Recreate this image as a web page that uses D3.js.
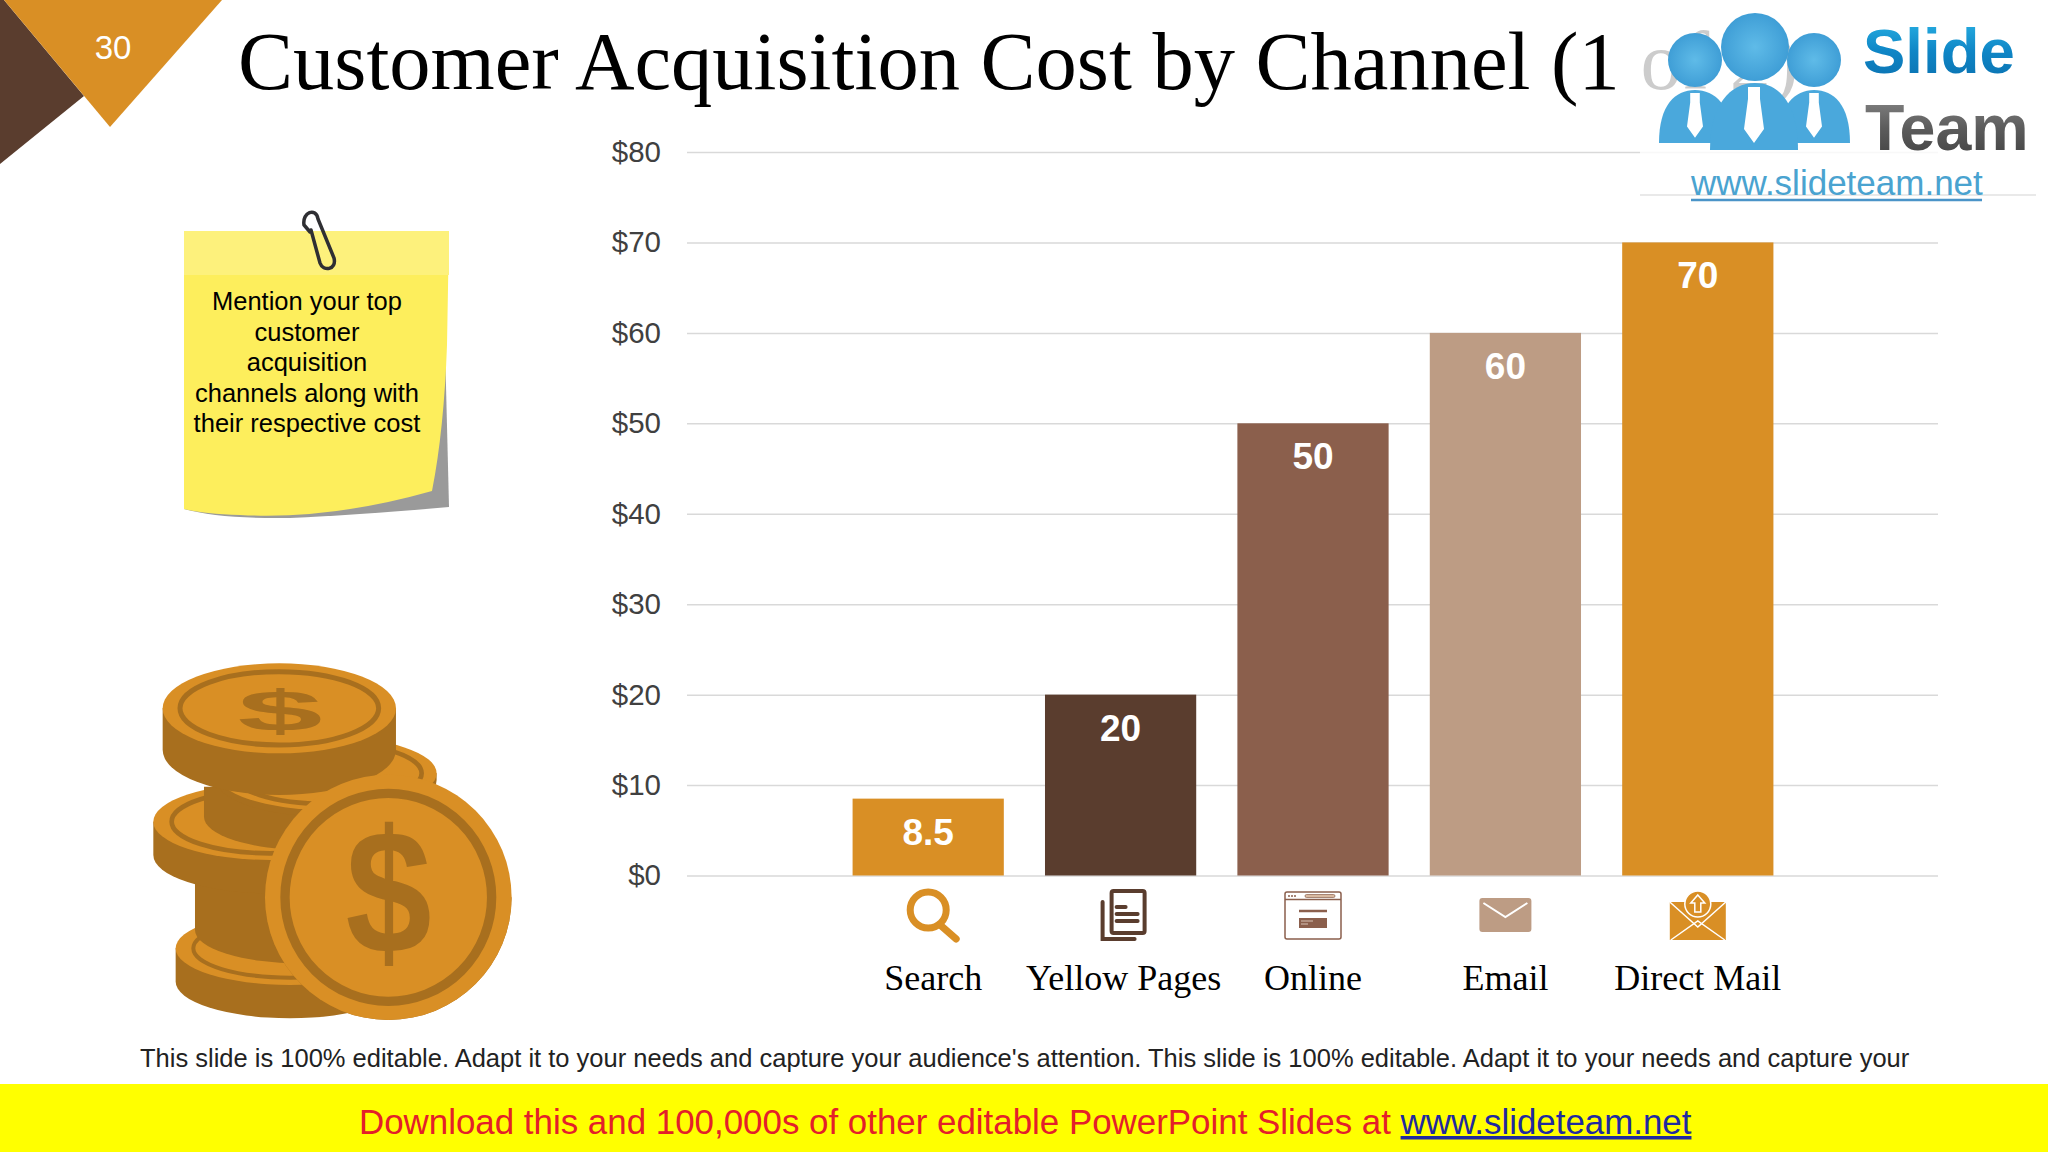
<!DOCTYPE html>
<html>
<head>
<meta charset="utf-8">
<script src="https://cdn.jsdelivr.net/npm/d3@7"></script>
<style>
  html, body { margin: 0; padding: 0; background: #fff; }
  svg { display: block; }
  .sans { font-family: "Liberation Sans", Arial, sans-serif; }
  .serif { font-family: "Liberation Serif", "Times New Roman", serif; }
</style>
</head>
<body>
<script>
// chart values
const channels = ["Search", "Yellow Pages", "Online", "Email", "Direct Mail"];
const costs = [8.5, 20, 50, 60, 70];
const barColors = ["#d98f25", "#5a3d2e", "#8b5f4c", "#bd9c84", "#d98f25"];
const costTicks = [0, 10, 20, 30, 40, 50, 60, 70, 80];
const noteLines = ["Mention your top", "customer", "acquisition", "channels along with", "their respective cost"];

const gold = "#d98f25", goldDark = "#a86f1e", brown = "#5a3d2e";

const svg = d3.select("body").append("svg")
  .attr("width", 2048)
  .attr("height", 1152)
  .attr("viewBox", "0 0 2048 1152");

const defs = svg.append("defs");

function linearGrad(id, stops) {
  const g = defs.append("linearGradient").attr("id", id)
    .attr("x1", 0).attr("y1", 0).attr("x2", 0).attr("y2", 1);
  stops.forEach((c, i) => g.append("stop")
    .attr("offset", i / (stops.length - 1)).attr("stop-color", c));
}
linearGrad("slideGrad", ["#2bb4e6", "#0f86c6", "#0a6fae"]);
linearGrad("teamGrad", ["#8a8a8a", "#5c5c5c", "#3f3f3f"]);

const headGrad = defs.append("radialGradient").attr("id", "headGrad");
headGrad.append("stop").attr("offset", 0).attr("stop-color", "#5fbbe8");
headGrad.append("stop").attr("offset", 1).attr("stop-color", "#3f9ed6");

// corner ribbon
svg.append("polygon").attr("points", "0,0 4,0 84,96 0,164").attr("fill", brown);
svg.append("polygon").attr("points", "4,0 222,0 110,127").attr("fill", gold);
svg.append("text").attr("class", "sans")
  .attr("x", 113).attr("y", 59)
  .attr("text-anchor", "middle")
  .attr("font-size", 33)
  .attr("fill", "#fff")
  .text("30");

// title
svg.append("text").attr("class", "serif")
  .attr("x", 238).attr("y", 89)
  .attr("font-size", 82.5)
  .attr("fill", "#000")
  .text("Customer Acquisition Cost by Channel (1 of 2)");

// scales
const x = d3.scaleBand()
  .domain(channels)
  .range([832, 1794])
  .paddingInner(0.214)
  .paddingOuter(0.107);

const y = d3.scaleLinear()
  .domain([0, 80])
  .range([875.5, 152]);

const color = d3.scaleOrdinal().domain(channels).range(barColors);

const plotLeft = 687, plotRight = 1938;

// y axis with gridlines
const yAxis = svg.append("g")
  .attr("transform", "translate(" + plotLeft + ",0)")
  .call(d3.axisLeft(y)
    .tickValues(costTicks)
    .tickFormat(d => "$" + d)
    .tickSize(-(plotRight - plotLeft))
    .tickPadding(26));
yAxis.select(".domain").remove();
yAxis.selectAll(".tick line").attr("stroke", "#d9d9d9").attr("stroke-width", 1.5);
yAxis.selectAll(".tick text")
  .attr("class", "sans")
  .attr("font-size", 29.5)
  .attr("fill", "#404040");

// bars
svg.append("g").selectAll("rect")
  .data(costs)
  .join("rect")
  .attr("x", (d, i) => x(channels[i]))
  .attr("y", d => y(d))
  .attr("width", x.bandwidth())
  .attr("height", d => y(0) - y(d))
  .attr("fill", (d, i) => color(channels[i]));

// value labels
svg.append("g").selectAll("text")
  .data(costs)
  .join("text")
  .attr("class", "sans")
  .attr("x", (d, i) => x(channels[i]) + x.bandwidth() / 2)
  .attr("y", d => y(d) + 46)
  .attr("text-anchor", "middle")
  .attr("font-size", 37)
  .attr("font-weight", "bold")
  .attr("fill", "#fff")
  .text(d => d);

// category labels, the first two sit a little right of their bars
const labelNudge = {"Search": 5, "Yellow Pages": 3};
const xAxis = svg.append("g")
  .attr("transform", "translate(0," + y(0) + ")")
  .call(d3.axisBottom(x).tickSize(0));
xAxis.select(".domain").remove();
xAxis.selectAll(".tick text")
  .attr("class", "serif")
  .attr("x", d => labelNudge[d] || 0)
  .attr("y", 114)
  .attr("dy", 0)
  .attr("font-size", 36)
  .attr("fill", "#000");

// channel icons
const iconX = d => x(d) + x.bandwidth() / 2;

const search = svg.append("g").attr("transform", "translate(" + iconX("Search") + ",0)");
search.append("circle").attr("cx", 0).attr("cy", 910).attr("r", 18)
  .attr("fill", "none").attr("stroke", gold).attr("stroke-width", 7);
search.append("line").attr("x1", 12).attr("y1", 925).attr("x2", 28).attr("y2", 939)
  .attr("stroke", gold).attr("stroke-width", 7).attr("stroke-linecap", "round");

const pages = svg.append("g").attr("transform", "translate(" + (iconX("Yellow Pages") + 1) + ",0)");
pages.append("path").attr("d", "M-19 902 V939 H13")
  .attr("fill", "none").attr("stroke", brown).attr("stroke-width", 4).attr("stroke-linecap", "round");
pages.append("rect").attr("x", -10).attr("y", 891).attr("width", 33).attr("height", 42).attr("rx", 2)
  .attr("fill", "#fff").attr("stroke", brown).attr("stroke-width", 4);
[[-5, 4, 907], [-5, 16, 914], [-5, 16, 921]].forEach(l => pages.append("line")
  .attr("x1", l[0]).attr("x2", l[1]).attr("y1", l[2]).attr("y2", l[2])
  .attr("stroke", brown).attr("stroke-width", 4).attr("stroke-linecap", "round"));

const online = svg.append("g").attr("transform", "translate(" + iconX("Online") + ",0)");
const onlineBrown = "#8b5f4c";
online.append("rect").attr("x", -28).attr("y", 892).attr("width", 56).attr("height", 47).attr("rx", 2)
  .attr("fill", "#fff").attr("stroke", onlineBrown).attr("stroke-width", 1.5);
online.append("line").attr("x1", -28).attr("x2", 28).attr("y1", 899.5).attr("y2", 899.5)
  .attr("stroke", onlineBrown).attr("stroke-width", 1.5);
[-24, -21, -18].forEach(c => online.append("circle").attr("cx", c).attr("cy", 896).attr("r", 1).attr("fill", onlineBrown));
online.append("rect").attr("x", -8).attr("y", 894.5).attr("width", 30).attr("height", 3).attr("rx", 1.5)
  .attr("fill", "#d9b9a0").attr("stroke", onlineBrown).attr("stroke-width", 0.7);
online.append("line").attr("x1", -14).attr("x2", 14).attr("y1", 911).attr("y2", 911)
  .attr("stroke", onlineBrown).attr("stroke-width", 2.5);
online.append("rect").attr("x", -14).attr("y", 918).attr("width", 28).attr("height", 10).attr("fill", onlineBrown);
online.append("line").attr("x1", -12).attr("x2", 0).attr("y1", 921).attr("y2", 921).attr("stroke", "#d9c4b5");
online.append("line").attr("x1", -12).attr("x2", -5).attr("y1", 924).attr("y2", 924).attr("stroke", "#d9c4b5");

const email = svg.append("g").attr("transform", "translate(" + iconX("Email") + ",0)");
email.append("rect").attr("x", -26).attr("y", 898).attr("width", 52).attr("height", 34).attr("rx", 3).attr("fill", "#bd9c84");
email.append("path").attr("d", "M-22 903 L0 917 L22 903")
  .attr("fill", "none").attr("stroke", "#fff").attr("stroke-width", 2);

const mail = svg.append("g").attr("transform", "translate(" + iconX("Direct Mail") + ",0)");
mail.append("rect").attr("x", -28).attr("y", 902).attr("width", 56).attr("height", 38).attr("fill", gold);
mail.append("path").attr("d", "M-28 902 L0 927 L28 902 M-27 940 L0 921 L27 940")
  .attr("fill", "none").attr("stroke", "#fff").attr("stroke-width", 1.5);
mail.append("circle").attr("cx", 0).attr("cy", 904).attr("r", 13)
  .attr("fill", gold).attr("stroke", "#fff").attr("stroke-width", 1.5);
mail.append("path").attr("d", "M0 895 L7 903 H3 V912 H-3 V903 H-7 Z")
  .attr("fill", gold).attr("stroke", "#fff").attr("stroke-width", 1.5);

// sticky note
const note = svg.append("g");
note.append("path")
  .attr("d", "M445 345 L449 507 Q360 515 290 518 Q220 519 184 509 Z")
  .attr("fill", "#9a9a9a");
note.append("path")
  .attr("d", "M184 231 H449 L447 345 Q444 430 432 491 Q330 520 240 515 Q205 514 184 509 Z")
  .attr("fill", "#fdee5c");
note.append("rect").attr("x", 184).attr("y", 231).attr("width", 265).attr("height", 44).attr("fill", "#fdf17c");
note.append("path")
  .attr("d", "M310 232 L304 225 C302 212 316 207 318 219 L334 258 C337 270 323 272 320 263 L311 230")
  .attr("fill", "none").attr("stroke", "#2f2f33").attr("stroke-width", 3.5).attr("stroke-linecap", "round");
note.selectAll("text")
  .data(noteLines)
  .join("text")
  .attr("class", "sans")
  .attr("x", 307)
  .attr("y", (d, i) => 310 + i * 30.6)
  .attr("text-anchor", "middle")
  .attr("font-size", 25.5)
  .attr("fill", "#000")
  .text(d => d);

// stack of coins, drawn in 3x units
const coins = svg.append("g").attr("transform", "translate(100,640) scale(0.3333)");

function cylinder(cx, cy, rx, ry, h) {
  coins.append("path")
    .attr("d", `M${cx - rx} ${cy} V${cy + h} A${rx} ${ry} 0 0 0 ${cx + rx} ${cy + h} V${cy} Z`)
    .attr("fill", goldDark);
}

function coin(cx, cy, rx, ry, h, ringRx, ringRy, ringW) {
  cylinder(cx, cy, rx, ry, h);
  coins.append("ellipse")
    .attr("cx", cx).attr("cy", cy).attr("rx", rx).attr("ry", ry)
    .attr("fill", gold);
  if (ringRx) {
    coins.append("ellipse")
      .attr("cx", cx).attr("cy", cy).attr("rx", ringRx).attr("ry", ringRy)
      .attr("fill", "none").attr("stroke", goldDark).attr("stroke-width", ringW);
  }
}

coin(570, 925, 343, 110, 100, 290, 88, 12);
cylinder(600, 700, 315, 100, 170);
coin(510, 545, 350, 115, 100, 295, 95, 14);
cylinder(620, 440, 308, 100, 90);
coin(680, 400, 330, 110, 20, 285, 92, 14);
coin(538, 205, 350, 135, 125, 298, 110, 15);
coin(865, 772, 370, 368, 0, 310, 312, 28);

coins.append("text").attr("class", "sans")
  .attr("transform", "translate(540,272) scale(1.08,0.4)")
  .attr("text-anchor", "middle")
  .attr("font-size", 425)
  .attr("font-weight", "bold")
  .attr("fill", goldDark)
  .text("$");
coins.append("text").attr("class", "sans")
  .attr("transform", "translate(866,940) scale(1,1.14)")
  .attr("text-anchor", "middle")
  .attr("font-size", 465)
  .attr("font-weight", "bold")
  .attr("fill", goldDark)
  .text("$");

// logo, on a see-through white box which lets the title show faintly
const logo = svg.append("g");
logo.append("rect").attr("x", 1640).attr("y", 0).attr("width", 396).attr("height", 195)
  .attr("fill", "#fff").attr("fill-opacity", 0.8);
logo.append("line").attr("x1", 1640).attr("x2", 2036).attr("y1", 195).attr("y2", 195)
  .attr("stroke", "#e2e2e2").attr("stroke-width", 1.5);

const bodies = [
  "M1659 143 C1659 105 1675 90 1695 90 C1715 90 1732 105 1732 143 Z",
  "M1778 143 C1778 105 1795 90 1814 90 C1834 90 1850 105 1850 143 Z",
  "M1710 150 C1710 105 1730 83 1755 83 C1780 83 1798 105 1798 150 Z"
];
logo.selectAll("path.body").data(bodies).join("path")
  .attr("class", "body").attr("d", d => d).attr("fill", "#4aa8dc");
[[1695, 60, 27], [1814, 60, 27], [1755, 47, 34]].forEach(h => logo.append("circle")
  .attr("cx", h[0]).attr("cy", h[1]).attr("r", h[2]).attr("fill", "url(#headGrad)"));
[[1695, 93, 0.8], [1814, 93, 0.8], [1754, 87, 1]].forEach(t => logo.append("path")
  .attr("transform", `translate(${t[0]},${t[1]}) scale(${t[2]})`)
  .attr("d", "M-6 0 H6 V12 L10 42 L0 56 L-10 42 L-6 12 Z")
  .attr("fill", "#fff"));

logo.append("text").attr("class", "sans")
  .attr("x", 1863).attr("y", 73).attr("font-size", 63.5).attr("font-weight", "bold")
  .attr("fill", "url(#slideGrad)").text("Slide");
logo.append("text").attr("class", "sans")
  .attr("x", 1865).attr("y", 150).attr("font-size", 64.5).attr("font-weight", "bold")
  .attr("fill", "url(#teamGrad)").text("Team");
logo.append("text").attr("class", "sans")
  .attr("x", 1691).attr("y", 195).attr("font-size", 35)
  .attr("fill", "#4aa3d0").text("www.slideteam.net");
logo.append("line").attr("x1", 1691).attr("x2", 1982).attr("y1", 200).attr("y2", 200)
  .attr("stroke", "#4a94c8").attr("stroke-width", 2.5);

// footer
svg.append("text").attr("class", "sans")
  .attr("x", 140).attr("y", 1067)
  .attr("font-size", 25.5)
  .attr("fill", "#222")
  .text("This slide is 100% editable. Adapt it to your needs and capture your audience's attention. This slide is 100% editable. Adapt it to your needs and capture your");

svg.append("rect").attr("x", 0).attr("y", 1084).attr("width", 2048).attr("height", 68).attr("fill", "#ffff00");
const banner = svg.append("text").attr("class", "sans")
  .attr("x", 359).attr("y", 1134)
  .attr("font-size", 34.9)
  .attr("fill", "#e3202a");
banner.append("tspan").text("Download this and 100,000s of other editable PowerPoint Slides at ");
banner.append("tspan").attr("fill", "#1f2a9f").attr("text-decoration", "underline").text("www.slideteam.net");
</script>
</body>
</html>
